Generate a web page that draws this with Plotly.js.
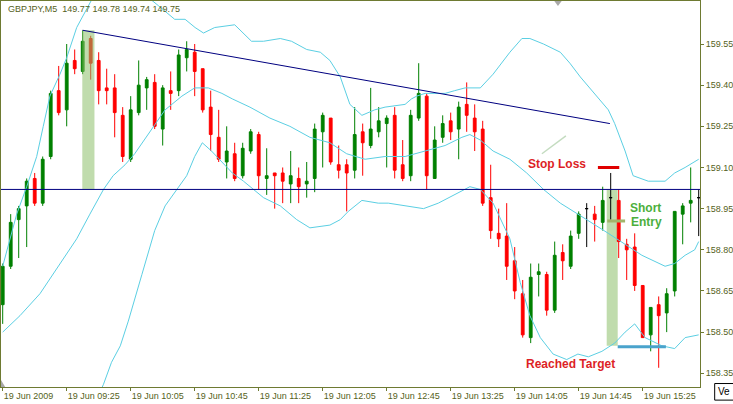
<!DOCTYPE html>
<html><head><meta charset="utf-8">
<script src="https://cdn.plot.ly/plotly-3.0.1.min.js"></script>
<style>html,body{margin:0;padding:0;background:#fff;}#chart{width:733px;height:404px;}</style>
</head><body><div id="chart"></div>
<script>
// ---- candle data (GBPJPY M5, one value per 5-minute bar starting 08:45) ----
const openP = [158.60,158.74,158.91,158.96,159.06,158.97,159.14,159.38,159.31,159.49,
159.45,159.57,159.49,159.39,159.39,159.29,159.13,159.30,159.39,159.41,
159.24,159.38,159.38,159.50,159.52,159.46,159.32,159.21,159.12,159.15,
159.07,159.16,159.22,159.06,159.08,159.08,159.04,159.06,159.04,159.06,
159.23,159.28,159.11,159.11,159.09,159.23,159.18,159.23,159.26,159.29,
159.11,159.07,159.28,159.36,159.06,159.21,159.27,159.24,159.33,159.28,
159.24,158.99,158.86,158.85,158.76,158.64,158.48,158.71,158.71,158.58,
158.79,158.74,158.86,158.95,158.93,158.90,158.99,158.98,158.82,158.81,
158.67,158.49,158.60,158.57,158.65,158.93,158.97,158.99];
const highP = [158.75,158.93,158.96,159.06,159.08,159.14,159.38,159.47,159.55,159.53,
159.60,159.58,159.52,159.46,159.44,159.32,159.36,159.49,159.43,159.44,
159.40,159.45,159.53,159.56,159.55,159.46,159.38,159.31,159.25,159.19,
159.19,159.24,159.23,159.17,159.08,159.10,159.16,159.10,159.12,159.26,
159.30,159.28,159.18,159.13,159.32,159.26,159.39,159.32,159.29,159.32,
159.20,159.31,159.48,159.37,159.25,159.29,159.30,159.34,159.41,159.33,
159.27,159.11,158.95,158.97,158.81,158.69,158.75,158.75,158.72,158.83,
158.82,158.87,158.94,158.97,158.96,159.03,159.08,159.02,158.84,158.86,
158.67,158.59,158.63,158.66,158.94,158.97,159.10,159.02];
const lowP = [158.53,158.73,158.77,158.81,158.96,158.96,159.13,159.29,159.25,159.44,
159.44,159.42,159.33,159.33,159.21,159.12,159.12,159.29,159.31,159.24,
159.18,159.31,159.36,159.45,159.36,159.30,159.16,159.12,159.06,159.05,
159.06,159.15,159.02,159.00,158.95,158.97,158.97,158.97,158.99,159.01,
159.10,159.11,159.06,158.94,159.06,159.07,159.17,159.21,159.10,159.06,
159.05,159.05,159.27,159.02,159.06,159.19,159.20,159.13,159.23,159.16,
158.96,158.84,158.81,158.69,158.62,158.48,158.46,158.63,158.56,158.57,
158.69,158.73,158.84,158.81,158.83,158.87,158.91,158.77,158.69,158.65,
158.48,158.43,158.37,158.50,158.63,158.82,158.90,158.85];
const closeP = [158.74,158.90,158.95,159.05,158.97,159.13,159.37,159.30,159.48,159.46,
159.56,159.48,159.38,159.38,159.30,159.14,159.31,159.40,159.42,159.25,
159.39,159.37,159.51,159.53,159.45,159.31,159.22,159.13,159.16,159.06,
159.17,159.23,159.07,159.07,159.07,159.05,159.07,159.03,159.05,159.24,
159.29,159.12,159.09,159.08,159.22,159.19,159.24,159.27,159.28,159.09,
159.06,159.29,159.37,159.07,159.20,159.26,159.23,159.32,159.29,159.23,
158.97,158.87,158.84,158.74,158.65,158.49,158.70,158.72,158.58,158.78,
158.76,158.85,158.93,158.95,158.91,158.98,158.99,158.83,158.80,158.67,
158.48,158.59,158.56,158.64,158.94,158.96,158.98,158.99];

// ---- Bollinger bands (bar position, price) ----
const bbUpperBar = [0,1.75,3,4.25,5.07,5.9,7.16,8,9.25,10.5,11.1,14.8,18.6,19.45,21.5,22.8,24.05,25.1,26.5,29,
29.7,31.1,32.6,34.7,36.1,38,39.7,40.9,42.2,43.4,44.9,46.5,47.8,50.3,51.1,51.75,52.8,55.3,56.5,57.8,
59.7,61.3,63.4,64.9,65.9,67.6,69.7,70.9,72.2,74,75.7,76.5,77.8,78.8,80.7,82.8,84,85.3,87];
const bbUpperVal = [158.74,158.93,159.03,159.14,159.25,159.36,159.44,159.50,159.61,159.68,159.71,159.82,159.71,159.69,159.64,159.64,159.61,159.59,159.61,159.62,
159.60,159.56,159.56,159.57,159.56,159.53,159.52,159.49,159.43,159.33,159.29,159.31,159.32,159.33,159.35,159.36,159.37,159.37,159.38,159.39,
159.39,159.44,159.52,159.57,159.57,159.55,159.52,159.48,159.43,159.37,159.31,159.26,159.16,159.07,159.05,159.05,159.08,159.10,159.13];
const bbMidBar = [0,2.16,4.66,6.95,9.25,10.9,12.6,13.8,15.3,16.5,18.2,20.3,22.4,24,25.7,27.4,28.7,30.9,33.4,35.9,
38.4,40.9,43,45.3,47.8,50.3,52.8,55.3,57.4,58.4,59.7,61.3,63.4,65.5,67.6,69.7,71.9,73.6,75.7,77.8,
79.9,82.8,84,85.3,86.5,87];
const bbMidVal = [158.50,158.56,158.64,158.74,158.84,158.93,159.02,159.07,159.11,159.15,159.22,159.31,159.36,159.39,159.39,159.37,159.35,159.32,159.28,159.25,
159.21,159.19,159.15,159.13,159.14,159.14,159.16,159.18,159.21,159.22,159.20,159.16,159.13,159.08,159.02,158.97,158.93,158.90,158.86,158.82,
158.78,158.74,158.75,158.78,158.80,158.83];
const bbLowerBar = [8,10,12.6,13.6,14.7,15.7,17.4,19,20.3,21.95,23,24,24.95,26.1,27.8,28.7,30.1,32.6,34.7,36.75,
38.4,40.9,42.2,43.2,44.9,46.95,48.2,50.3,52.6,54.45,56.5,57.8,58.4,59.7,61.3,63.4,64.7,65.9,67.2,68.8,
70.5,71.9,73.2,74.9,76.5,77.8,79,80.3,82.4,84,85.3,87];
const bbLowerVal = [158.02,158.14,158.31,158.39,158.45,158.54,158.71,158.87,158.96,159.03,159.07,159.14,159.19,159.16,159.11,159.08,159.05,158.99,158.96,158.91,
158.88,158.89,158.91,158.94,158.98,158.97,158.97,158.96,158.95,158.97,159.00,159.02,159.03,159.02,158.97,158.84,158.68,158.56,158.48,158.42,
158.40,158.42,158.41,158.43,158.46,158.50,158.53,158.48,158.45,158.44,158.48,158.49];

// ---- axis labels ----
const tickBars = [0,8,16,24,32,40,48,56,64,72,80];
const tickLabels = ['19 Jun 2009','19 Jun 09:25','19 Jun 10:05','19 Jun 10:45','19 Jun 11:25','19 Jun 12:05',
  '19 Jun 12:45','19 Jun 13:25','19 Jun 14:05','19 Jun 14:45','19 Jun 15:25'];
const priceTicks = [158.35,158.50,158.65,158.80,158.95,159.10,159.25,159.40,159.55];
const titleText = 'GBPJPY,M5\u00a0\u00a0149.77 149.78 149.74 149.75';

// ---- build traces ----
const idx = openP.map((_, i) => i);
const isDoji = i => openP[i] === closeP[i];
const sel = (arr, doji) => idx.filter(i => isDoji(i) === doji).map(i => arr[i]);
const FRAME = '#6e7a32', TXT = '#555f22', BB = '#5bcfe3', NAVY = '#000080';
const FONT = 'Liberation Sans, Arial, sans-serif';

const candles = {
  type: 'candlestick', x: sel(idx, false), open: sel(openP, false), high: sel(highP, false),
  low: sel(lowP, false), close: sel(closeP, false), whiskerwidth: 0, hoverinfo: 'skip',
  increasing: {line: {color: '#008000', width: 1}, fillcolor: '#008000'},
  decreasing: {line: {color: '#ff0000', width: 1}, fillcolor: '#ff0000'}
};
const dojis = {
  type: 'candlestick', x: sel(idx, true), open: sel(openP, true), high: sel(highP, true),
  low: sel(lowP, true), close: sel(closeP, true), whiskerwidth: 0, hoverinfo: 'skip',
  increasing: {line: {color: '#000000', width: 1}, fillcolor: '#000000'},
  decreasing: {line: {color: '#000000', width: 1}, fillcolor: '#000000'}
};
const band = (xs, ys) => ({type: 'scatter', mode: 'lines', x: xs, y: ys, hoverinfo: 'skip',
  line: {color: BB, width: 1}});

const traces = [candles, dojis, band(bbUpperBar, bbUpperVal), band(bbMidBar, bbMidVal), band(bbLowerBar, bbLowerVal)];

const shapes = [
  {type: 'rect', xref: 'x', yref: 'y', x0: 75.5, x1: 76.875, y0: 158.45, y1: 159.02,
   fillcolor: '#c0dcad', line: {width: 0}, layer: 'below'},
  {type: 'rect', xref: 'x', yref: 'y', x0: 9.95, x1: 11.47, y0: 159.02, y1: 159.60,
   fillcolor: '#8dc06a', opacity: 0.55, line: {width: 0}, layer: 'above'},
  {type: 'line', xref: 'paper', yref: 'y', x0: 0, x1: 1, y0: 159.02, y1: 159.02, line: {color: NAVY, width: 1}},
  {type: 'line', xref: 'x', yref: 'y', x0: 10, y0: 159.60, x1: 75.9, y1: 159.26, line: {color: NAVY, width: 1}},
  {type: 'line', xref: 'x', yref: 'y', x0: 67.4, y0: 159.15, x1: 70.4, y1: 159.215, line: {color: '#c4dcc0', width: 1.5}},
  {type: 'line', xref: 'x', yref: 'y', x0: 74.4, x1: 77.07, y0: 159.10, y1: 159.10, line: {color: '#e00000', width: 3}},
  {type: 'line', xref: 'x', yref: 'y', x0: 75.57, x1: 77.8, y0: 158.905, y1: 158.905, line: {color: '#a3b56b', width: 3}},
  {type: 'line', xref: 'x', yref: 'y', x0: 76.875, x1: 82.9, y0: 158.447, y1: 158.447, line: {color: '#4aa3cc', width: 3}},
  {type: 'path', xref: 'paper', yref: 'paper', path: 'M 0.7916 1 L 0.8021 1 L 0.7968 0.987 Z',
   fillcolor: '#a8a8a8', line: {width: 0}},
  {type: 'path', xref: 'paper', yref: 'paper', path: 'M 0 0 L 0 0.018 L 0.006 0 Z',
   fillcolor: '#a8a8a8', line: {width: 0}},
  {type: 'rect', xref: 'paper', yref: 'paper', x0: 1.021, x1: 1.08, y0: -0.034, y1: 0.009,
   fillcolor: '#ffffff', line: {color: '#000000', width: 1}}
];

const ann = (x, y, text, color, size) => ({x, y, xref: 'x', yref: 'y', text,
  showarrow: false, font: {size, color, family: FONT}});
const annotations = [
  {xref: 'paper', yref: 'paper', x: 0.0072, y: 0.979, xanchor: 'left', yanchor: 'middle', text: titleText,
   showarrow: false, font: {size: 9, color: TXT, family: FONT}},
  ann(69.25, 159.112, '<b>Stop Loss</b>', '#dd1f26', 12),
  ann(80.35, 158.951, '<b>Short</b>', '#4caf3c', 12),
  ann(80.5, 158.900, '<b>Entry</b>', '#4caf3c', 12),
  ann(71.0, 158.384, '<b>Reached Target</b>', '#dd1f26', 12),
  {xref: 'paper', yref: 'paper', x: 1.0225, y: -0.0125, xanchor: 'left', yanchor: 'middle', text: 'Ve',
   showarrow: false, font: {size: 10, color: '#000', family: FONT}}
];

const layout = {
  width: 733, height: 404, margin: {l: 1, r: 33, t: 1, b: 17, pad: 0},
  paper_bgcolor: '#ffffff', plot_bgcolor: '#ffffff', showlegend: false, boxgap: 0.5,
  font: {family: FONT, size: 9, color: TXT},
  xaxis: {range: [-0.2125, 87.1625], tickmode: 'array', tickvals: tickBars, ticktext: tickLabels,
    ticks: 'outside', ticklen: 3, tickcolor: FRAME, showline: true, linecolor: FRAME, linewidth: 1,
    mirror: true, showgrid: false, zeroline: false, rangeslider: {visible: false},
    ticklabelposition: 'outside right', tickfont: {size: 9, color: TXT}, fixedrange: true},
  yaxis: {side: 'right', range: [158.30, 159.7067], tickmode: 'array', tickvals: priceTicks,
    ticktext: priceTicks.map(v => v.toFixed(2)), ticks: 'outside', ticklen: 3, tickcolor: FRAME,
    showline: true, linecolor: FRAME, linewidth: 1, mirror: true, showgrid: false, zeroline: false,
    tickfont: {size: 9, color: TXT}, fixedrange: true},
  shapes, annotations
};

Plotly.newPlot('chart', traces, layout, {staticPlot: true, displayModeBar: false});
</script></body></html>
